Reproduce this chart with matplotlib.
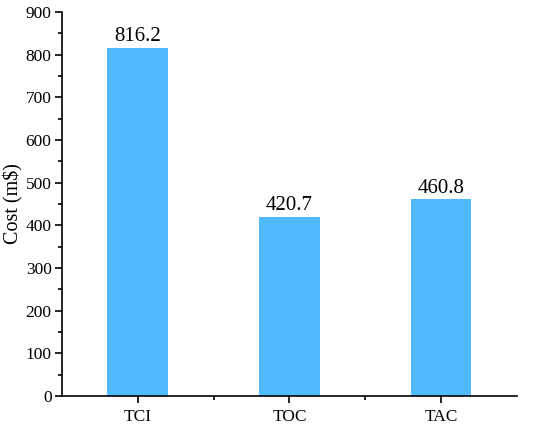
import matplotlib
matplotlib.use("Agg")
import matplotlib.pyplot as plt
from matplotlib.ticker import MultipleLocator, FixedLocator

categories = ["TCI", "TOC", "TAC"]
values = [816.2, 420.7, 460.8]
value_labels = ["816.2", "420.7", "460.8"]

plt.rcParams['font.family'] = ['Liberation Serif', 'DejaVu Serif']
plt.rcParams['mathtext.fontset'] = 'stix'

fig = plt.figure(figsize=(5.5, 4.29), dpi=100)
ax = fig.add_axes([0.1127, 0.0769, 0.8273, 0.8951])

x = list(range(len(categories)))
ax.bar(x, values, width=0.4, color="#4FBBFE", zorder=2)
for xi, v, lab in zip(x, values, value_labels):
    ax.text(xi, v + 3, lab, ha="center", va="bottom", fontsize=15)

ax.set_xlim(-0.5, 2.5)
ax.set_ylim(0, 900)
ax.set_xticks(x)
ax.set_xticklabels(categories)
ax.xaxis.set_minor_locator(FixedLocator([0.5, 1.5]))
ax.yaxis.set_major_locator(MultipleLocator(100))
ax.yaxis.set_minor_locator(MultipleLocator(50))
ax.tick_params(axis="both", which="major", direction="out", length=5, width=1.2, labelsize=12.5)
ax.tick_params(axis="y", which="major", pad=2.5)
ax.tick_params(axis="x", which="major", pad=4)
ax.tick_params(axis="both", which="minor", direction="out", length=3, width=1.2)
ax.spines["top"].set_visible(False)
ax.spines["right"].set_visible(False)
ax.spines["left"].set_linewidth(1.2)
ax.spines["bottom"].set_linewidth(1.2)
ax.set_ylabel("Cost (m$)", fontsize=14.5)
ax.yaxis.set_label_coords(-0.085, 0.5)

fig.savefig("out.png", dpi=100)
